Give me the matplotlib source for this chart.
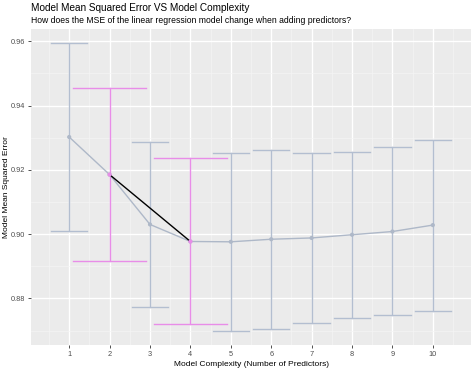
import matplotlib
matplotlib.use("Agg")
import matplotlib.pyplot as plt
import numpy as np

complexity = [1, 2, 3, 4, 5, 6, 7, 8, 9, 10]
mse = [0.9302, 0.9185, 0.9030, 0.8977, 0.8976, 0.8984, 0.8988, 0.8998, 0.9008, 0.9028]
mse_upper = [0.9593, 0.9456, 0.9287, 0.9237, 0.9253, 0.9261, 0.9252, 0.9256, 0.9270, 0.9294]
mse_lower = [0.9011, 0.8916, 0.8774, 0.8719, 0.8700, 0.8706, 0.8723, 0.8739, 0.8747, 0.8762]
highlight = [2, 4]

plt.rcParams['font.family'] = ['Liberation Sans', 'DejaVu Sans']

W, H = 474, 372
fig = plt.figure(figsize=(W / 100, H / 100), dpi=100)
ax = fig.add_axes([31 / W, 1 - 345 / H, (471 - 31) / W, (345 - 29) / H])

bg = '#EBEBEB'
ax.set_facecolor(bg)
for s in ax.spines.values():
    s.set_visible(False)

blue = '#B3BED0'
pink = '#E88DE8'
linec = '#AEB8C8'

# grid
ax.set_xticks(complexity)
ax.set_xticks(np.arange(0.5, 11, 1.0), minor=True)
ax.set_yticks([0.88, 0.90, 0.92, 0.94, 0.96])
ax.set_yticks([0.87, 0.89, 0.91, 0.93, 0.95], minor=True)
ax.grid(which='major', color='white', linewidth=1.0, zorder=0)
ax.grid(which='minor', color='#F5F5F5', linewidth=0.5, zorder=0)
ax.set_axisbelow(True)

x = np.array(complexity)
y = np.array(mse)
up = np.array(mse_upper)
lo = np.array(mse_lower)

for xi, yi, u, l in zip(x, y, up, lo):
    if xi in highlight:
        c, hw = pink, 0.9
    else:
        c, hw = blue, 0.45
    ax.plot([xi, xi], [l, u], color=c, lw=1.0, zorder=2)
    ax.plot([xi - hw, xi + hw], [u, u], color=c, lw=1.0, zorder=2)
    ax.plot([xi - hw, xi + hw], [l, l], color=c, lw=1.0, zorder=2)

ax.plot(x, y, color=linec, lw=1.0, zorder=3)
ax.scatter(x, y, s=9, color=linec, zorder=4, edgecolors='none')
hi = [i for i, v in enumerate(complexity) if v in highlight]
ax.plot(x[hi], y[hi], color='black', lw=1.0, zorder=5)
ax.scatter(x[hi], y[hi], s=9, color=pink, zorder=6, edgecolors='none')

ax.set_xlim(0.055, 10.945)
ax.set_ylim(0.8655, 0.9638)

ax.tick_params(axis='both', which='major', length=2.5, width=0.6, color='#333333',
               labelsize=5.3, labelcolor='#4D4D4D', pad=2)
ax.tick_params(axis='both', which='minor', length=0)
ax.set_yticklabels(['0.88', '0.90', '0.92', '0.94', '0.96'])

ax.set_xlabel('Model Complexity (Number of Predictors)', fontsize=6.0)
ax.set_ylabel('Model Mean Squared Error', fontsize=6.0)
ax.xaxis.set_label_coords((251 - 31) / (471 - 31), -(364 - 345) / (345 - 29))
ax.yaxis.set_label_coords(-(31 - 7) / (471 - 31), 0.5)
ax.xaxis.label.set_va('center')
ax.yaxis.label.set_va('center')

fig.text(31 / W, 1 - 8 / H, 'Model Mean Squared Error VS Model Complexity',
         fontsize=7.2, ha='left', va='center')
fig.text(31 / W, 1 - 20.5 / H, 'How does the MSE of the linear regression model change when adding predictors?',
         fontsize=6.2, ha='left', va='center')

fig.savefig('out.png', dpi=100, facecolor='white')
